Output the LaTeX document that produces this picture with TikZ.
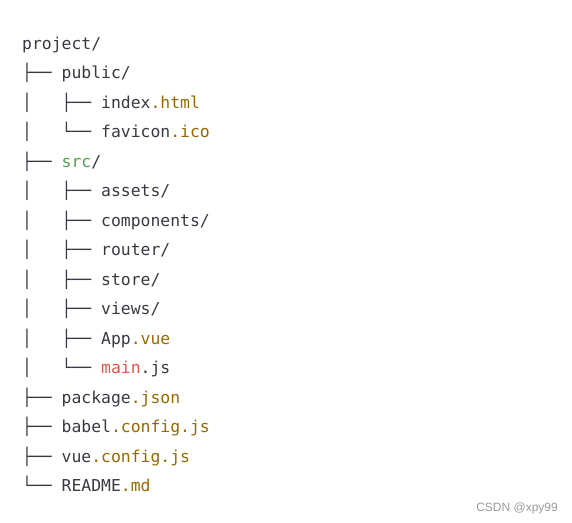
\documentclass[tikz,border=0pt]{standalone}
\usepackage{fontspec}
\setmonofont{DejaVu Sans Mono}
\setsansfont{Liberation Sans}

\definecolor{treetext}{HTML}{383A42}
\definecolor{extbrown}{HTML}{986801}
\definecolor{dirgreen}{HTML}{50A14F}
\definecolor{jsred}{HTML}{E45649}
\definecolor{markgray}{HTML}{9A9A9A}

\newcommand\ext[1]{\textcolor{extbrown}{#1}}
\newcommand\sub{│\ \ \ }

\begin{document}
\begin{tikzpicture}[
        x=1pt, y=-1pt,
        entry/.style={anchor=base west, inner sep=0pt, text=treetext,
          font=\ttfamily\fontsize{16.4}{20}\selectfont},
        credit/.style={anchor=base east, inner sep=0pt, text=markgray,
          font=\sffamily\fontsize{12}{14}\selectfont}
      ]
        \useasboundingbox (0,0) rectangle (572,522);

        % root folder
        \node[entry] (Root) at (22,49) {project/};

        % public
        \node[entry] (Public) at (22,78.5) {├── public/};
        \node[entry] (Index) at (22,108) {\sub├── index\ext{.html}};
        \node[entry] (Favicon) at (22,137.5) {\sub└── favicon\ext{.ico}};

        % src
        \node[entry] (Src) at (22,167) {├── \textcolor{dirgreen}{src}/};
        \node[entry] (Assets) at (22,196.5) {\sub├── assets/};
        \node[entry] (Components) at (22,226) {\sub├── components/};
        \node[entry] (Router) at (22,255.5) {\sub├── router/};
        \node[entry] (Store) at (22,285) {\sub├── store/};
        \node[entry] (Views) at (22,314.5) {\sub├── views/};
        \node[entry] (App) at (22,344) {\sub├── App\ext{.vue}};
        \node[entry] (Main) at (22,373.5) {\sub└── \textcolor{jsred}{main}.js};

        % config files
        \node[entry] (Package) at (22,403) {├── package\ext{.json}};
        \node[entry] (Babel) at (22,432.5) {├── babel\ext{.config.js}};
        \node[entry] (VueConf) at (22,462) {├── vue\ext{.config.js}};
        \node[entry] (Readme) at (22,491.5) {└── README\ext{.md}};

        \node[credit] (Credit) at (558,511) {CSDN @xpy99};
      \end{tikzpicture}
\end{document}
